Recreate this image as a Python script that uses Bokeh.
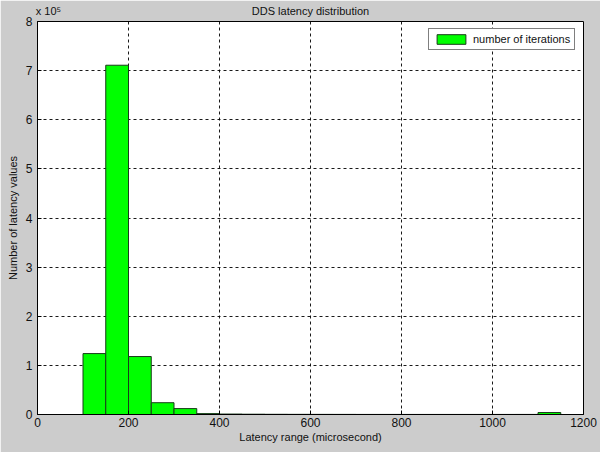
from bokeh.plotting import figure
from bokeh.models import (Range1d, FixedTicker, CustomJSTickFormatter,
                          Legend, LegendItem, ColumnDataSource, LinearAxis)
from bokeh.embed import file_html
from bokeh.resources import INLINE

# Histogram bins (microseconds) and counts
bin_left = [100, 150, 200, 250, 300, 350, 400, 450, 500, 550, 600, 650, 700,
            750, 800, 850, 900, 950, 1000, 1050, 1100]
bin_width = 50
counts = [124000, 711000, 118000, 24000, 12000, 1800, 900, 600, 400, 300, 250,
          200, 150, 150, 120, 100, 100, 100, 100, 150, 4000]
x_ticks = [0, 200, 400, 600, 800, 1000, 1200]
y_ticks = [0, 100000, 200000, 300000, 400000, 500000, 600000, 700000, 800000]
title_text = "DDS latency distribution"
exponent_text = "x 10\u2075"

FONT = "Liberation Sans"
BG = "#cccccc"

src = ColumnDataSource(dict(
    left=bin_left,
    right=[b + bin_width for b in bin_left],
    top=counts,
    bottom=[0] * len(counts),
))

p = figure(width=600, height=452, output_backend="svg", toolbar_location=None,
           x_range=Range1d(0, 1200), y_range=Range1d(0, 800000),
           min_border_left=37, min_border_right=17, min_border_top=21,
           min_border_bottom=38)
p.background_fill_color = "white"
p.border_fill_color = BG
p.outline_line_color = "black"
p.outline_line_width = 1

r = p.quad(left="left", right="right", top="top", bottom="bottom", source=src,
           fill_color="#00ff00", line_color="#1a3a1a", line_width=1)

for ax in (p.xaxis[0], p.yaxis[0]):
    ax.major_tick_in = 4
    ax.major_tick_out = 0
    ax.minor_tick_line_color = None
    ax.axis_line_color = "black"
    ax.major_label_text_font = FONT
    ax.major_label_text_font_size = "12px"
    ax.major_label_text_color = "#111111"
    ax.axis_label_text_font = FONT
    ax.axis_label_text_font_size = "11px"
    ax.axis_label_text_font_style = "normal"
    ax.axis_label_text_color = "#111111"

p.xaxis.ticker = FixedTicker(ticks=x_ticks)
p.yaxis.ticker = FixedTicker(ticks=y_ticks)
p.yaxis.formatter = CustomJSTickFormatter(code="return (tick/1e5).toFixed(0);")
p.xaxis.axis_label = "Latency range (microsecond)"
p.yaxis.axis_label = "Number of latency values"
p.xaxis.major_label_standoff = 3
p.xaxis.axis_label_standoff = 1
p.yaxis.major_label_standoff = 5
p.yaxis.axis_label_standoff = 4

# Top "axis" carrying the exponent marker and the chart title
top_ax = LinearAxis(ticker=FixedTicker(ticks=[24, 600]),
                    major_label_overrides={24: exponent_text, 600: title_text})
top_ax.axis_line_color = None
top_ax.major_tick_line_color = None
top_ax.major_tick_in = 0
top_ax.major_tick_out = 0
top_ax.minor_tick_line_color = None
top_ax.minor_tick_in = 0
top_ax.minor_tick_out = 0
top_ax.major_label_text_font = FONT
top_ax.major_label_text_font_size = "11px"
top_ax.major_label_text_color = "#111111"
top_ax.major_label_standoff = 5
p.add_layout(top_ax, "above")

for g in (p.xgrid[0], p.ygrid[0]):
    g.grid_line_color = "black"
    g.grid_line_dash = "3 3"
    g.grid_line_width = 1
    g.grid_line_alpha = 0.9

legend = Legend(items=[LegendItem(label="number of iterations", renderers=[r])],
                location=(391, 364))
legend.label_text_font = FONT
legend.label_text_font_size = "11px"
legend.label_text_color = "#111111"
legend.border_line_color = "black"
legend.border_line_width = 1
legend.background_fill_color = "white"
legend.background_fill_alpha = 1
legend.glyph_width = 36
legend.glyph_height = 12
legend.padding = 4
legend.margin = 0
legend.label_standoff = 4
legend.spacing = 0
p.add_layout(legend)

open("out.html", "w").write(file_html(p, INLINE))
